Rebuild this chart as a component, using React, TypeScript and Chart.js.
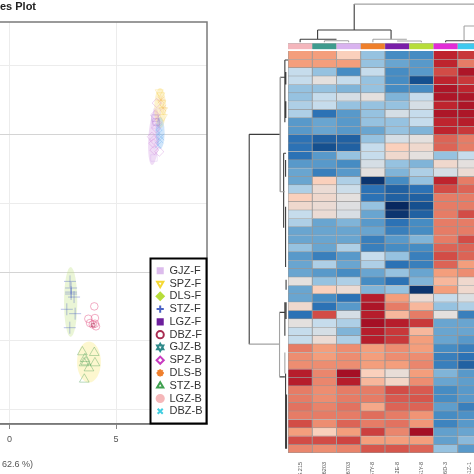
import React, { useEffect, useRef } from 'react';
import { Chart, registerables } from 'chart.js';
import { drawPoint } from 'chart.js/helpers';

Chart.register(...registerables);

// scores plot, one list of [x, y] per group
const gjzF = [[6.78, 8.3], [6.83, 10.7], [6.92, 11.64]];
const spzF = [[7.1, 12.88], [7.22, 11.79], [7.15, 12.3], [7.22, 11.3], [7.03, 13.1]];
const dlsF: number[][] = [];
const stzF = [[2.84, -0.68], [2.89, -1.46], [3.03, -1.82], [2.69, -2.71], [3.08, -3.03], [2.83, -4.05], [2.89, -1.16], [2.89, -1.6]];
const lgzF = [[6.88, 10.92], [6.83, 11.21]];
const dbzF = [[3.92, -3.86]];
const gjzB: number[][] = [];
const spzB = [[6.75, 9.37], [7.03, 8.76], [6.68, 9.85], [6.91, 10.87], [6.91, 12.3], [6.8, 8.88], [6.83, 11.43], [6.78, 9.61], [6.88, 10.48]];
const dlsB = [[7.11, 12.52], [7.21, 11.94]];
const stzB = [[3.42, -5.82], [3.98, -5.87], [3.54, -6.31], [3.5, -6.62], [4.01, -6.62], [3.73, -6.99], [3.51, -7.81], [3.59, -6.55]];
const lgzB = [[3.98, -2.5], [3.7, -3.4], [4.01, -3.35], [3.78, -3.71], [4.01, -3.76], [4.06, -3.95], [3.91, -3.81]];
const dbzB = [[7.03, 10.12], [7.07, 9.61], [7.0, 10.55], [7.11, 9.83], [6.97, 9.24]];

const groupNames = ['GJZ-F', 'SPZ-F', 'DLS-F', 'STZ-F', 'LGZ-F', 'DBZ-F', 'GJZ-B', 'SPZ-B', 'DLS-B', 'STZ-B', 'LGZ-B', 'DBZ-B'];
const groupPoints = [gjzF, spzF, dlsF, stzF, lgzF, dbzF, gjzB, spzB, dlsB, stzB, lgzB, dbzB];
const groupColors = ['#dcbcec', '#f5d833', '#b7dd3a', '#4a62c4', '#6d1f9c', '#a82b50', '#2f8a8a', '#c83cc0', '#ef7f2c', '#3fa04f', '#f5b7b9', '#3fcde0'];
const groupMarkers = ['rect', 'triangle', 'rectRot', 'cross', 'rect', 'circle', 'david', 'rectRot', 'star', 'triangle', 'circle', 'crossRot'];
const groupFilled = [true, false, true, false, true, false, false, false, true, false, true, false];
const plotColors = ['rgba(210,170,235,0.4)', 'rgba(245,205,70,0.35)', 'rgba(183,221,58,0.5)', 'rgba(74,98,196,0.5)', 'rgba(130,70,190,0.3)', 'rgba(168,43,80,0.8)', 'rgba(47,138,138,0.5)', 'rgba(205,130,215,0.42)', 'rgba(239,150,70,0.3)', 'rgba(80,160,90,0.5)', 'rgba(232,110,150,0.7)', 'rgba(100,170,240,0.42)'];

// confidence ellipses: centre x, centre y, radius x, radius y (data units)
const ellipseValues = [
  [6.78, 9.83, 0.26, 2.04],
  [7.07, 11.94, 0.28, 1.46],
  [7.07, 10.12, 0.21, 1.16],
  [2.87, -2.18, 0.31, 2.55],
  [3.73, -6.55, 0.56, 1.49],
];
const ellipseColors = ['rgba(205,150,225,0.33)', 'rgba(250,220,120,0.38)', 'rgba(120,180,240,0.35)', 'rgba(190,225,130,0.33)', 'rgba(250,235,140,0.42)'];

const xTicks = [-10, -5, 0, 5];
const yTicks = [-10, -5, 0, 5, 10, 15];

// heatmap, one row per feature, columns left to right (z-scores scaled to -7.5 .. 6.5)
const heatRows = [
  [2, 2, 1, -2, -4, -4, 5, 4.5],
  [2, 2, 2, -2, -3, -3.5, 5, 3],
  [-1, -2, -4, -1, -4, -3.5, 4, 6],
  [-1, 0, -1, -2, -4, -6, 5, 4.5],
  [-2, -2, -2.5, -2, -4, -4, 6, 5],
  [-2, -1, -0.5, 0, -2.5, -1, 6, 6],
  [-1.5, -1, -2, -2, -2, -0.5, 5, 6],
  [-1.5, -5, -3.5, -2, -0.5, -1, 6, 6],
  [-3.5, -3, -3.5, -2, -2, -1, 5, 5.5],
  [-3.5, -3, -3.5, -3, -2, -2.5, 5, 4.5],
  [-5, -5.5, -5.5, -2, -0.5, 0, 3.5, 3],
  [-5, -6, -5.5, -1, 1, 0.5, 3.5, 3],
  [-5, -3.5, -2, -1, 0.5, 0, -2, -1],
  [-3.5, -3.5, -4, -0.5, -2, -2.5, 0.5, 0],
  [-3, -4.5, -3.5, 0, -2.5, -1.5, -0.5, 0.3],
  [-3, 1, -1.5, -7, -4, -2, 5, 3],
  [-1.5, 0.3, -0.8, -5, -5.5, -5, 4, 3.5],
  [1, 0.5, 0, -5, -5.5, -5.5, 3, 3],
  [0.5, 0.3, -0.2, -2, -7.5, -6, 3, 3],
  [-1, 0.3, -0.4, -3, -7, -5.5, 3, 4],
  [-1.5, -3, -2.5, -3.5, -5, -4, 3, 3],
  [-3, -3, -3, -3, -4.5, -4, 3, 3],
  [-3, -3, -3, -4.5, -3.5, -2.5, 3, 4],
  [-2, -3, -1.5, -4.5, -4, -4, 3.5, 3.5],
  [-3.5, -4.5, -3.5, -1, -2, -4.5, 4, 3.5],
  [-3, -1.5, -3, -1.5, -5, -4.5, 3.5, 2],
  [-3, -3.5, -4, -3, -2, -3, 2, 2.5],
  [0, -2, -1.5, -4, -5, -2.5, 1.5, 0.5],
  [-3, 1, 0.3, -2.5, -2, -7, 2, 0.5],
  [-3, -4, -5, 5.5, 2, 0.3, -1, -0.3],
  [0.5, -5, -3.5, 6, 3, 1.5, -2, -1.5],
  [-5, 4, -0.5, 5.5, 1.5, 3, 0, -4.5],
  [0, -1, -1.5, 6.5, 5.5, 4.5, -3, -3],
  [-1, -0.5, -2.5, 5.5, 4.5, 1.5, -3, -3],
  [-1, 0.3, -1.5, 5.5, 4.5, 2, -3, -3.5],
  [3, 2, 2.5, 2, 2.5, 2, -4, -4.5],
  [2.5, 2, 2.5, 2, 2.5, 2.5, -4.5, -5],
  [2.5, 2.5, 2.5, 2, 2, 2.7, -4.5, -5.5],
  [5.5, 2.7, 6.5, 1, 0.2, 2, -2.5, -3.5],
  [5.5, 2.7, 5.5, 1.5, 0.7, 2.5, -3, -3.3],
  [3, 2.5, 3, 3, 4, 3.7, -4, -3.5],
  [3, 2.5, 3, 3, 3.7, 3.8, -4, -3.5],
  [3.2, 2.8, 3.2, 1.8, 3.5, 3.5, -3.3, -4.5],
  [3, 3, 3, 3.3, 3, 2.3, -4, -3.8],
  [4, 2.5, 3.5, 3, 3.2, 2.2, -4.3, -3.5],
  [2, 1, 2, 4.3, 2.7, 6.5, -3.2, -3],
  [4, 4, 4.2, 2, 2, 2, -3.2, -2.3],
  [2.7, 2.5, 2.8, 3.8, 3.8, 3.5, -2, -3.5],
];
const sampleLabels = ['S.215', 'L6203', 'L6703', 'S7Y-8', 'S2E-8', 'S1Y-8', 'L6D-3', 'S1Z-1'];
const columnColors = ['#f4b6bc', '#3e9b8e', '#d9b3ef', '#ef7f2a', '#7a1fa8', '#b7dd3a', '#e22bd6', '#3ec9ef'];
const heatStops: [number, number[]][] = [
  [-7.5, [8, 40, 95]],
  [-6, [21, 80, 143]],
  [-5, [44, 114, 181]],
  [-4, [70, 140, 195]],
  [-3, [105, 165, 208]],
  [-2, [150, 194, 224]],
  [-1, [198, 220, 236]],
  [0, [228, 224, 222]],
  [1, [250, 208, 188]],
  [2, [244, 158, 124]],
  [3, [230, 124, 102]],
  [4, [210, 76, 70]],
  [5, [190, 36, 46]],
  [6.5, [165, 15, 37]],
];

// dendrograms as [x1, y1, x2, y2], x in columns and y in rows of the heatmap
const treeDark = [
  [-1.6, 9.95, -1.6, 35], [-1.6, 9.95, -0.33, 9.95], [-0.33, 3.14, -0.13, 3.14],
  [-0.13, 1.07, -0.13, 8.5], [-0.13, 1.07, 0, 1.07], [-0.09, 2.5, -0.09, 4], [-0.09, 6, -0.09, 8],
  [-0.18, 12.2, -0.18, 21.1], [-0.18, 12.2, -0.08, 12.2], [-0.1, 13, -0.1, 15], [-0.1, 18.6, -0.1, 25.8],
  [-0.08, 27.3, -0.08, 28.5], [-0.35, 31.2, -0.13, 31.2], [-0.35, 38.9, -0.13, 38.9],
  [-0.13, 30, -0.13, 34], [-0.08, 30, -0.08, 32], [-0.1, 38.5, -0.1, 47.5], [-0.06, 41, -0.06, 47.5],
  [2.73, -5.6, 2.73, -2.5], [1.22, -2.5, 4.25, -2.5], [1.22, -2.5, 1.22, -1.4], [4.25, -2.5, 4.25, -1.4],
  [0.5, -1.4, 2, -1.4], [6.5, -1.23, 8, -1.23], [0.5, -1.4, 0.5, -1.05], [6.5, -1.23, 6.5, -1.05],
];
const treeGray = [
  [-1.6, 35, -0.35, 35], [-0.35, 31.2, -0.35, 38.9],
  [-0.33, 3.14, -0.33, 16.8], [-0.31, 3.14, -0.31, 16.8], [-0.33, 16.8, -0.13, 16.8], [-0.13, 36, -0.13, 38.5],
  [2.73, -5.6, 9, -5.6], [7.26, -2.98, 7.26, -1.23], [7.26, -2.98, 9, -2.98],
  [1.5, -1.23, 2.5, -1.23], [1.5, -1.23, 1.5, -1.05], [2.5, -1.23, 2.5, -1.05],
  [3.5, -1.4, 4.9, -1.4], [3.5, -1.4, 3.5, -1.05], [4.5, -1.2, 5.5, -1.2], [5.5, -1.2, 5.5, -1.05],
];

function heatColor(v: number) {
  for (let i = 1; i < heatStops.length; i++) {
    const [hi, c1] = heatStops[i];
    const [lo, c0] = heatStops[i - 1];
    if (v <= hi) {
      const t = Math.max(0, (v - lo) / (hi - lo));
      return `rgb(${c0.map((c, k) => Math.round(c + (c1[k] - c) * t)).join(',')})`;
    }
  }
  return 'rgb(165,15,37)';
}

function marker(ctx: CanvasRenderingContext2D, style: string, x: number, y: number, size: number) {
  const base = { radius: size, borderWidth: 1.6, rotation: 0 };
  if (style === 'david') {
    drawPoint(ctx, { ...base, pointStyle: 'triangle' }, x, y);
    drawPoint(ctx, { ...base, pointStyle: 'triangle', rotation: 180 }, x, y);
  } else if (style === 'triangle' && ctx.strokeStyle === '#f5d833') {
    drawPoint(ctx, { ...base, pointStyle: 'triangle', rotation: 180 }, x, y);
  } else {
    drawPoint(ctx, { ...base, pointStyle: style }, x, y);
  }
}

const ellipsePlugin = {
  id: 'groupEllipses',
  beforeDatasetsDraw(chart: any) {
    const { ctx, scales } = chart;
    ellipseValues.forEach(([cx, cy, rx, ry], i) => {
      ctx.save();
      ctx.fillStyle = ellipseColors[i];
      ctx.beginPath();
      ctx.ellipse(
        scales.x.getPixelForValue(cx),
        scales.y.getPixelForValue(cy),
        Math.abs(scales.x.getPixelForValue(cx + rx) - scales.x.getPixelForValue(cx)),
        Math.abs(scales.y.getPixelForValue(cy + ry) - scales.y.getPixelForValue(cy)),
        i === 0 ? 0.07 : 0,
        0,
        Math.PI * 2,
      );
      ctx.fill();
      ctx.restore();
    });
  },
};

// frame around the plot and the boxed legend in its bottom right corner
const framePlugin = {
  id: 'frameAndLegend',
  afterDraw(chart: any) {
    const { ctx, chartArea: a } = chart;
    ctx.save();
    ctx.strokeStyle = '#7a7a7a';
    ctx.lineWidth = 1.5;
    ctx.strokeRect(a.left, a.top, a.width, a.height);

    const left = a.right - 56.5;
    const top = a.bottom - 165.5;
    ctx.fillStyle = '#fff';
    ctx.fillRect(left, top, 56, 165);
    ctx.strokeStyle = '#000';
    ctx.lineWidth = 2;
    ctx.strokeRect(left, top, 56, 165);

    ctx.textBaseline = 'middle';
    ctx.font = '11px "Liberation Sans"';
    groupNames.forEach((name, i) => {
      const y = top + 12.3 + i * 12.77;
      ctx.strokeStyle = groupColors[i];
      ctx.fillStyle = groupFilled[i] ? groupColors[i] : '#fff';
      marker(ctx, groupMarkers[i], left + 9.7, y, 3.6);
      ctx.fillStyle = '#333';
      ctx.fillText(name, left + 19, y);
    });
    ctx.restore();
  },
};

const ScoresChart: React.FC = () => {
  const canvas = useRef<HTMLCanvasElement>(null);

  useEffect(() => {
    if (!canvas.current) return;
    const chart = new Chart(canvas.current, {
      type: 'scatter',
      data: {
        datasets: groupNames.map((name, i) => ({
          label: name,
          data: groupPoints[i].map(([x, y]) => ({ x, y })),
          pointStyle: groupMarkers[i] === 'david' ? 'triangle' : groupMarkers[i],
          pointRotation: name === 'SPZ-F' ? 180 : 0,
          pointRadius: name === 'DBZ-F' ? 2 : name === 'STZ-F' ? 6 : name === 'LGZ-B' ? 3.8 : name === 'STZ-B' ? 5.6 : 4.6,
          pointBorderWidth: 0.8,
          pointBackgroundColor: 'rgba(255,255,255,0)',
          pointBorderColor: plotColors[i],
        })),
      },
      options: {
        animation: false,
        responsive: false,
        layout: { padding: { left: 8.5, right: 0, top: 0, bottom: 0 } },
        plugins: {
          legend: { display: false },
          tooltip: { enabled: false },
          title: {
            display: true,
            text: 'Scores Plot',
            color: '#222',
            font: { family: '"Liberation Sans"', size: 11, weight: 'bold', lineHeight: 1.2 },
            padding: { top: 0, bottom: 8.8 },
          },
        },
        scales: {
          x: {
            type: 'linear',
            min: -11.43,
            max: 9.27,
            afterBuildTicks: (axis: any) => {
              axis.ticks = xTicks.map((value) => ({ value }));
            },
            afterFit: (axis: any) => {
              axis.height = 50;
            },
            grid: { color: '#ececec', tickColor: '#888', tickLength: 5 },
            border: { color: '#7a7a7a', width: 1.5 },
            ticks: { color: '#555', font: { family: '"Liberation Sans"', size: 9 }, padding: 5, maxRotation: 0 },
            title: {
              display: true,
              text: 'Component 1 ( 62.6 %)',
              color: '#555',
              font: { family: '"Liberation Sans"', size: 9 },
              padding: { top: 4, bottom: 4 },
            },
          },
          y: {
            type: 'linear',
            min: -11.06,
            max: 18.2,
            afterBuildTicks: (axis: any) => {
              axis.ticks = yTicks.map((value) => ({ value }));
            },
            afterFit: (axis: any) => {
              axis.width = 2.5;
            },
            grid: {
              drawTicks: false,
              color: (c: any) => (c.tick.value === 0 || c.tick.value === 10 ? '#d4d4d4' : '#ececec'),
            },
            border: { display: false },
            ticks: { display: false },
          },
          // empty axis, keeps the title box wider than the plot
          y2: {
            type: 'linear',
            position: 'right',
            afterFit: (axis: any) => {
              axis.width = 41;
            },
            grid: { display: false },
            border: { display: false },
            ticks: { display: false },
          },
        },
      },
      plugins: [ellipsePlugin, framePlugin],
    } as any);

    return () => chart.destroy();
  }, []);

  return <canvas ref={canvas} width={493} height={474} style={{ position: 'absolute', left: -245, top: 0 }} />;
};

const HeatmapChart: React.FC = () => {
  const canvas = useRef<HTMLCanvasElement>(null);

  useEffect(() => {
    if (!canvas.current) return;
    const rowSets = heatRows.map((row, r) => ({
      data: row.map(() => [r, r + 1]),
      backgroundColor: row.map(heatColor),
      borderColor: '#979797',
      borderWidth: 0.8,
      grouped: false,
      barPercentage: 1,
      categoryPercentage: 1,
    }));
    const annotationSet = {
      data: columnColors.map(() => [-0.93, -0.2]),
      backgroundColor: columnColors,
      borderColor: '#b5b5b5',
      borderWidth: 0.5,
      grouped: false,
      barPercentage: 1,
      categoryPercentage: 1,
    };
    const chart = new Chart(canvas.current, {
      type: 'bar',
      data: { labels: sampleLabels, datasets: [annotationSet, ...rowSets] },
      options: {
        animation: false,
        responsive: false,
        plugins: { legend: { display: false }, tooltip: { enabled: false } },
        scales: {
          x: {
            afterFit: (axis: any) => {
              axis.height = 21;
            },
            grid: { display: false },
            border: { display: false },
            ticks: { color: '#555', font: { family: '"Liberation Sans"', size: 5.5 }, minRotation: 90, maxRotation: 90, padding: 1, autoSkip: false },
          },
          y: { display: false, reverse: true, min: -0.955, max: 48 },
        },
      },
    } as any);

    return () => chart.destroy();
  }, []);

  return <canvas ref={canvas} width={194} height={431} style={{ position: 'absolute', left: 288, top: 43 }} />;
};

function treeLine(segments: number[][], color: string) {
  return {
    data: segments.flatMap(([x1, y1, x2, y2]) => [{ x: x1, y: y1 }, { x: x2, y: y2 }, { x: null, y: null }]),
    showLine: true,
    borderColor: color,
    borderWidth: 1.1,
    pointRadius: 0,
  };
}

const TreeChart: React.FC = () => {
  const canvas = useRef<HTMLCanvasElement>(null);

  useEffect(() => {
    if (!canvas.current) return;
    const chart = new Chart(canvas.current, {
      type: 'scatter',
      data: { datasets: [treeLine(treeGray, '#a3a3a3'), treeLine(treeDark, '#3c3c3c')] },
      options: {
        animation: false,
        responsive: false,
        plugins: { legend: { display: false }, tooltip: { enabled: false } },
        scales: {
          x: { display: false, min: -1.98, max: 7.67 },
          y: { display: false, reverse: true, min: -6.09, max: 50.5 },
        },
      },
    } as any);

    return () => chart.destroy();
  }, []);

  return <canvas ref={canvas} width={234} height={474} style={{ position: 'absolute', left: 240, top: 0 }} />;
};

export default function App() {
  return (
    <div style={{ position: 'absolute', left: 0, top: 0, width: 474, height: 474, overflow: 'hidden', background: '#fff', filter: 'blur(0.55px)' }}>
      <ScoresChart />
      <HeatmapChart />
      <TreeChart />
    </div>
  );
}
